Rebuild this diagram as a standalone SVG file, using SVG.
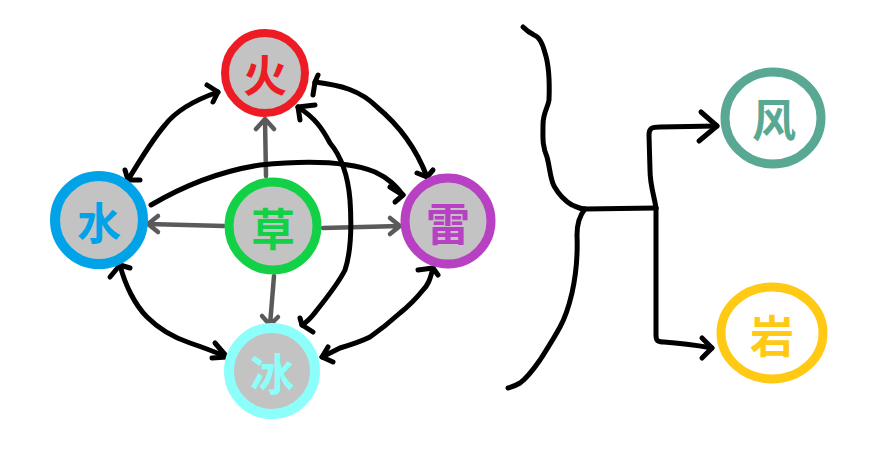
<svg xmlns="http://www.w3.org/2000/svg" width="878" height="451" viewBox="0 0 878 451">
<style>
.n{fill:#c3c3c3}
.t{font-family:"Noto Sans CJK SC","Noto Sans",sans-serif;font-size:44px;font-weight:700;text-anchor:middle;dominant-baseline:central}
.k{fill:none;stroke:#000;stroke-width:5;stroke-linecap:round;stroke-linejoin:round}
.g{fill:none;stroke:#5a5a5a;stroke-width:4.5;stroke-linecap:round;stroke-linejoin:round}
</style>
<rect width="878" height="451" fill="#fff"/>
<g id="connectors">
<path class="g" d="M266 176 L265 119 M256 129 L265 119 L274 129"/>
<path class="g" d="M224 226 L148 224 M158 216 L148 224 L158 232"/>
<path class="g" d="M323 228 L400 226 M390 218 L400 226 L390 234"/>
<path class="g" d="M274 276 L270 325 M262 316 L270 325 L278 317"/>
<path class="k" d="M218 92 C195 100 175 112 165 125 C152 140 140 160 128 180"/>
<path class="k" d="M207 85 L218 92 L213 102 M125 170 L128 180 L140 180"/>
<path class="k" d="M315 82 C340 85 360 90 377 107 C395 122 415 145 427 177"/>
<path class="k" d="M318 75 L315 82 L313 95 M417 173 L427 177 L433 170"/>
<path class="k" d="M120 265 C125 285 135 305 147 317 C160 330 175 338 190 343 C205 348 215 352 227 357"/>
<path class="k" d="M110 277 L120 265 L130 268 M215 343 L227 357 L212 358"/>
<path class="k" d="M433 268 C430 280 428 285 423 290 C415 300 410 305 400 313 C390 322 380 330 370 337 C360 342 350 345 340 348 L322 357"/>
<path class="k" d="M418 270 L433 268 L438 275 M328 347 L322 357 L333 362"/>
<path class="k" d="M302 325 C310 320 313 315 317 310 C325 300 340 280 345 270 C350 255 352 230 350 200 C348 175 340 155 330 143 C322 128 315 118 298 107"/>
<path class="k" d="M300 318 L302 325 L313 332 M300 120 L298 107 L315 105"/>
<path class="k" d="M151 205 C180 188 215 172 260 165 C310 160 350 162 375 172 C388 178 395 185 403 195"/>
<path class="k" d="M390 187 L403 195 L395 202"/>
<path class="k" d="M523 27 C527 31 530 33 534 35 C540 37 543 45 545 53 C548 62 550 75 549 100 C548 108 543 112 543 125 C543 138 542 145 547 157 C550 168 550 178 554 186 C558 193 565 201 572 205 C577 207 580 209 585 209 L656 208"/>
<path class="k" d="M585 209 C580 215 577 222 577 235 C578 260 576 275 572 293 C568 310 565 318 560 327 C553 340 545 352 540 360 C533 370 527 378 520 383 C515 386 512 387 508 388"/>
<path class="k" d="M656 208 C654 195 650 185 650 170 L649 135 C649 128 652 127 660 127 L717 126"/>
<path class="k" d="M701 112 L717 126 L699 141"/>
<path class="k" d="M656 208 L656 335 C656 341 658 342 664 342 C680 343 695 345 712 348"/>
<path class="k" d="M702 338 L712 348 L702 358"/>
</g>
<g id="fire"><circle class="n" cx="265" cy="73" r="40" stroke="#ed1c24" stroke-width="8"/><text class="t" x="265" y="73" fill="#ed1c24">火</text></g>
<g id="water"><circle class="n" cx="99" cy="220" r="44" stroke="#00a2e8" stroke-width="10"/><text class="t" x="99" y="221" fill="#00a2e8">水</text></g>
<g id="dendro"><circle class="n" cx="273" cy="226" r="44" stroke="#12d146" stroke-width="9"/><text class="t" x="273" y="227" fill="#12d146">草</text></g>
<g id="electro"><circle class="n" cx="448" cy="221" r="43" stroke="#b840c2" stroke-width="9"/><text class="t" x="448" y="222" fill="#b840c2">雷</text></g>
<g id="cryo"><circle class="n" cx="272" cy="371" r="43" stroke="#8cfffb" stroke-width="10"/><text class="t" x="272" y="372" fill="#8cfffb">冰</text></g>
<g id="anemo"><ellipse cx="773" cy="118" rx="48" ry="46" fill="#fff" stroke="#59a894" stroke-width="9"/><text class="t" x="774" y="118" fill="#59a894">风</text></g>
<g id="geo"><ellipse cx="772" cy="333" rx="51" ry="46" fill="#fff" stroke="#ffc914" stroke-width="9"/><text class="t" x="772" y="334" fill="#ffc914">岩</text></g>
</svg>
